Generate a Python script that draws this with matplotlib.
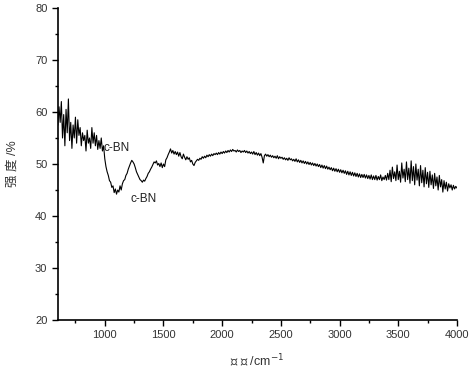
import numpy as np
import matplotlib
matplotlib.use('Agg')
import matplotlib.pyplot as plt

plt.rcParams['font.family'] = ['Liberation Sans', 'Noto Sans CJK SC', 'DejaVu Sans']

# wavenumber (cm-1), read every 10 units from the picture
wavenumber = np.arange(600, 4001, 10)
intensity = [
    # 600-1000
    57.5, 61.0, 58.0, 62.0, 55.0, 59.5, 53.5, 60.5, 56.0, 62.5,
    54.5, 58.0, 53.0, 57.5, 55.0, 59.0, 54.0, 58.5, 55.5, 57.0,
    53.5, 56.0, 54.5, 55.5, 52.5, 56.5, 54.0, 55.0, 53.0, 57.0,
    54.0, 56.0, 53.5, 55.5, 52.8, 54.5, 53.0, 55.0, 52.5, 53.5,
    51.0,
    # 1010-1190
    49.5, 48.5, 47.8, 46.8, 46.5, 45.5, 45.8, 44.5, 45.2, 44.2,
    45.0, 44.6, 45.8, 45.0, 46.2, 46.8, 47.0, 47.8, 48.2,
    # 1200-1390
    49.0, 49.6, 50.2, 50.7, 50.4, 50.0, 49.3, 48.5, 48.0, 47.5,
    47.0, 46.8, 46.5, 46.9, 46.7, 47.2, 47.6, 48.2, 48.5, 49.0,
    # 1400-1590
    49.4, 49.9, 50.4, 50.2, 50.6, 49.8, 50.1, 49.5, 50.2, 49.3,
    50.0, 49.5, 50.8, 51.2, 51.8, 52.3, 52.9, 52.1, 52.6, 51.9,
    # 1600-1790
    52.4, 51.8, 52.3, 51.5, 52.2, 51.4, 51.0, 51.9, 51.3, 50.8,
    51.4, 50.9, 51.2, 50.4, 50.7, 50.0, 49.7, 50.3, 50.6, 50.9,
    # 1800-1990
    50.7, 51.1, 50.9, 51.4, 51.1, 51.5, 51.2, 51.7, 51.4, 51.8,
    51.5, 51.9, 51.6, 52.0, 51.8, 52.1, 51.8, 52.2, 51.9, 52.3,
    # 2000-2190
    52.0, 52.4, 52.1, 52.5, 52.2, 52.6, 52.3, 52.7, 52.4, 52.8,
    52.5, 52.6, 52.3, 52.7, 52.4, 52.6, 52.2, 52.5, 52.3, 52.6,
    # 2200-2390
    52.2, 52.5, 52.1, 52.4, 52.0, 52.3, 51.9, 52.4, 51.8, 52.2,
    51.7, 52.1, 51.6, 52.0, 51.3, 50.2, 51.6, 51.9, 51.5, 51.8,
    # 2400-2590
    51.4, 51.7, 51.3, 51.6, 51.2, 51.5, 51.1, 51.6, 51.0, 51.4,
    51.1, 51.3, 50.9, 51.2, 50.8, 51.1, 50.7, 51.2, 50.8, 51.0,
    # 2600-2790
    50.6, 50.9, 50.5, 51.0, 50.4, 50.8, 50.3, 50.7, 50.2, 50.6,
    50.1, 50.5, 50.0, 50.4, 49.9, 50.3, 49.8, 50.2, 49.7, 50.1,
    # 2800-2990
    49.6, 50.0, 49.5, 49.9, 49.3, 49.8, 49.2, 49.7, 49.1, 49.6,
    49.0, 49.4, 48.9, 49.3, 48.7, 49.2, 48.6, 49.1, 48.5, 49.0,
    # 3000-3190
    48.4, 48.9, 48.3, 48.8, 48.2, 48.7, 48.0, 48.6, 47.9, 48.5,
    47.8, 48.4, 47.7, 48.3, 47.6, 48.2, 47.5, 48.1, 47.4, 48.0,
    # 3200-3390
    47.4, 48.0, 47.3, 47.9, 47.2, 47.8, 47.1, 47.9, 47.0, 47.7,
    47.0, 47.8, 46.9, 47.6, 47.0, 47.9, 46.8, 47.5, 47.0, 47.8,
    # 3400-3590
    46.9, 48.2, 47.0, 48.8, 46.6, 49.4, 47.2, 48.5, 46.8, 49.8,
    47.0, 48.6, 46.5, 50.2, 47.3, 49.0, 46.6, 50.4, 47.0, 49.2,
    # 3600-3790
    46.3, 50.6, 46.8, 49.5, 46.0, 50.0, 46.9, 49.0, 45.8, 49.7,
    46.4, 48.8, 45.6, 49.3, 46.2, 48.4, 45.5, 48.6, 46.0, 47.9,
    # 3800-3990
    45.3, 48.2, 45.8, 47.5, 45.0, 47.8, 45.6, 47.0, 44.6, 46.8,
    45.2, 46.5, 44.8, 46.2, 45.4, 46.0, 45.0, 45.9, 45.2, 45.7,
    # 4000
    45.4,
]

labels = [('c-BN', 985, 53.1), ('c-BN', 1215, 43.3)]

fig = plt.figure(figsize=(4.74, 3.77), dpi=100)
ax = fig.add_axes([0.122, 0.151, 0.842, 0.828])

ax.plot(wavenumber, intensity, color='black', lw=0.8)

for text, x, y in labels:
    ax.text(x, y, text, fontsize=8.5, color='#222222', va='center', ha='left')

ax.set_xlim(600, 4000)
ax.set_ylim(20, 80)
ax.set_xticks([1000, 1500, 2000, 2500, 3000, 3500, 4000])
ax.set_xticks([750, 1250, 1750, 2250, 2750, 3250, 3750], minor=True)
ax.set_yticks([20, 30, 40, 50, 60, 70, 80])
ax.set_yticks([25, 35, 45, 55, 65, 75], minor=True)

for side in ['top', 'right']:
    ax.spines[side].set_visible(False)
for side in ['left', 'bottom']:
    ax.spines[side].set_linewidth(1.2)

ax.tick_params(which='major', direction='out', length=4, width=1, labelsize=8, labelcolor='#333333')
ax.tick_params(which='minor', direction='out', length=2.5, width=1)

ax.set_xlabel('波 数 /cm$^{-1}$', fontsize=9, color='#333333', labelpad=8)
ax.set_ylabel('强 度 /%', fontsize=9, color='#333333', labelpad=12)

plt.savefig('out.png', dpi=100)
